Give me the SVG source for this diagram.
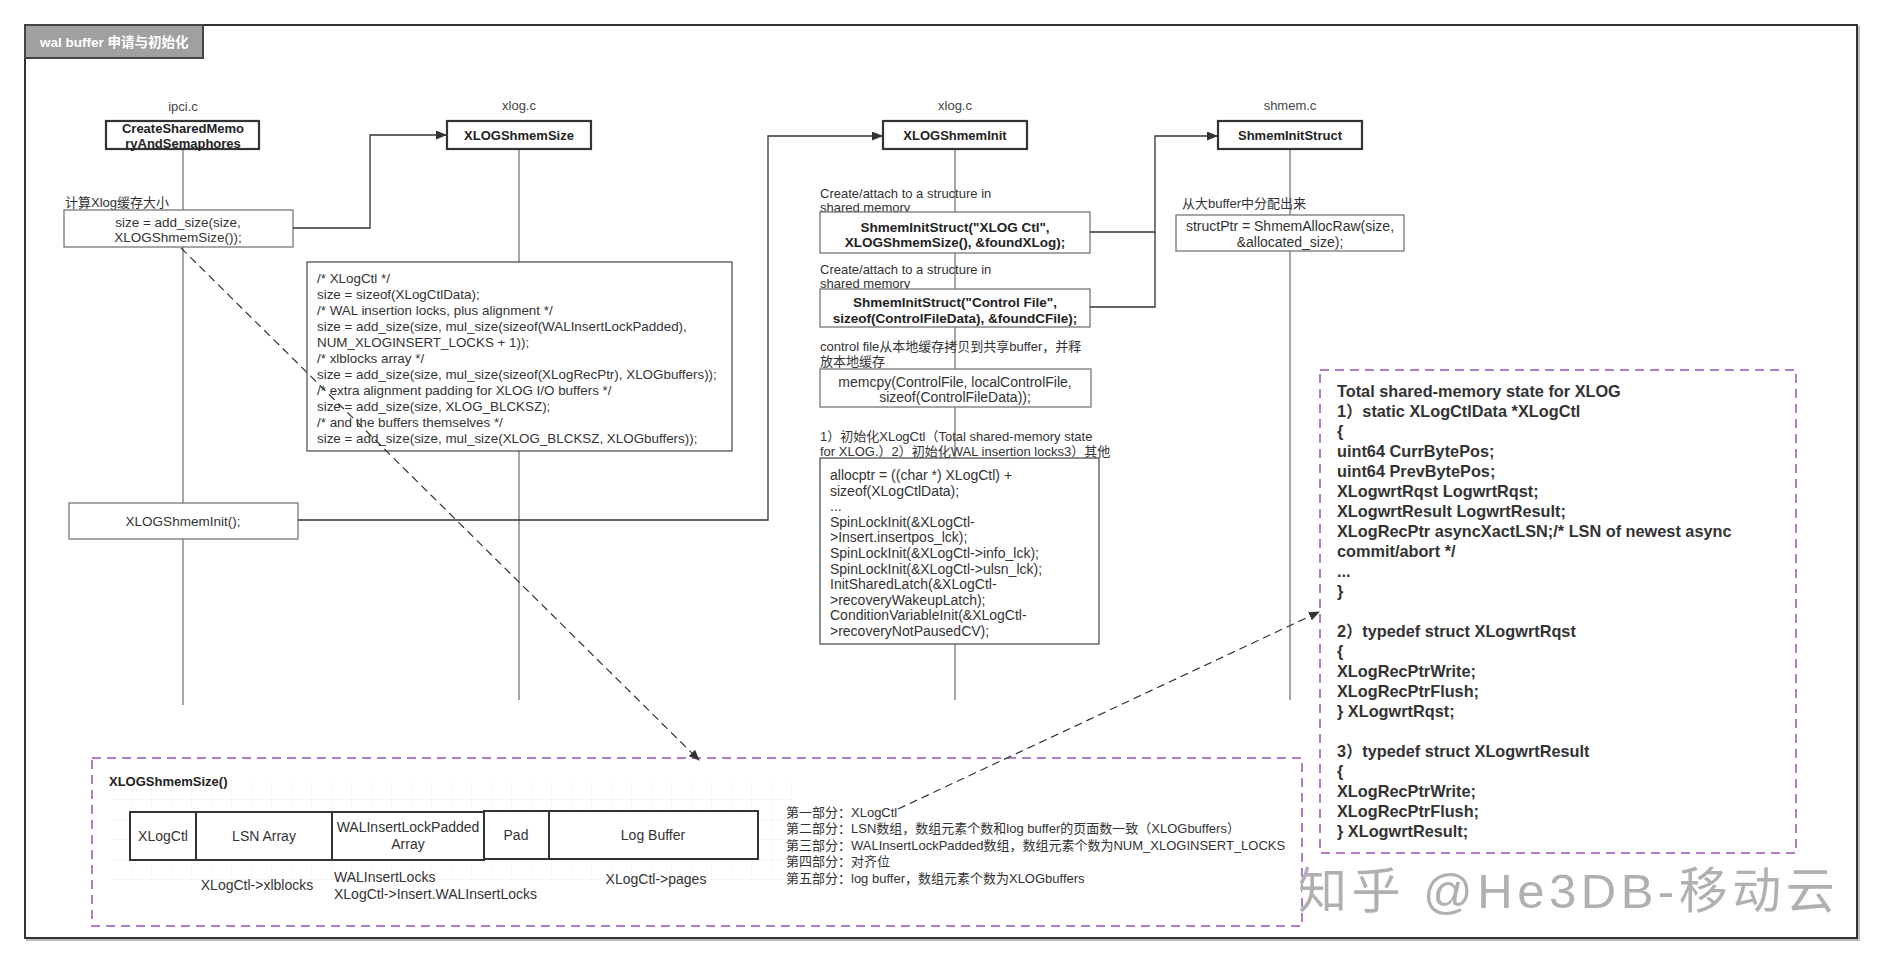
<svg xmlns="http://www.w3.org/2000/svg" width="1883" height="964" viewBox="0 0 1883 964">
<defs>
<marker id="arr" markerUnits="userSpaceOnUse" markerWidth="11" markerHeight="9" refX="10" refY="4.5" orient="auto">
<path d="M0,0 L11,4.5 L0,9 z" fill="#333"/>
</marker>
<pattern id="grid" width="20" height="20" patternUnits="userSpaceOnUse" x="112" y="780">
<path d="M20,0 V20 M0,20 H20" fill="none" stroke="#efefef" stroke-width="1"/>
</pattern>
<style>
text{font-family:"Liberation Sans","Noto Sans CJK SC",sans-serif;fill:#333;}
.lbl{font-size:13px;}
.code{font-size:14px;}
.code2{font-size:13.4px;}
.hdr{font-size:13px;font-weight:bold;fill:#222;}
.file{font-size:13px;fill:#444;}
.big{font-size:16.3px;font-weight:bold;fill:#333;}
.head{fill:#fff;stroke:#333;stroke-width:2.2;}
.box{fill:#fff;stroke:#777;stroke-width:1.3;}
.dbox{fill:#fff;stroke:#444;stroke-width:1.2;}
.life{stroke:#8a8a8a;stroke-width:1.5;fill:none;}
.con{stroke:#333;stroke-width:1.3;fill:none;}
.dash{stroke:#333;stroke-width:1.2;fill:none;stroke-dasharray:8 5;}
.purple{fill:none;stroke:#b57cc6;stroke-width:2;stroke-dasharray:9 6;}
.seg{fill:#fff;stroke:#333;stroke-width:2;}
.wm{font-size:49px;letter-spacing:4.5px;}
</style>
</defs>
<rect x="0" y="0" width="1883" height="964" fill="#fff"/>
<g id="frame">
<rect x="27" y="27" width="1832" height="913" fill="none" stroke="#bbb" stroke-width="2"/>
<rect x="25" y="25" width="1832" height="913" fill="#fff" stroke="#333" stroke-width="2"/>
<rect x="25" y="25" width="178" height="33" fill="#a0a0a0" stroke="#444" stroke-width="2"/>
<text x="40" y="42" dominant-baseline="central" style="font-size:13.5px;font-weight:bold;fill:#fff">wal buffer 申请与初始化</text>
</g>
<g id="lifelines">
<line class="life" x1="183" y1="149" x2="183" y2="705"/>
<line class="life" x1="519" y1="149" x2="519" y2="700"/>
<line class="life" x1="955" y1="149" x2="955" y2="700"/>
<line class="life" x1="1290" y1="149" x2="1290" y2="700"/>
</g>
<g id="ipci">
<text class="file" x="183" y="106" text-anchor="middle" dominant-baseline="central">ipci.c</text>
<rect class="head" x="106" y="121" width="153" height="28"/>
<text class="hdr" x="183" y="128" text-anchor="middle" dominant-baseline="central">CreateSharedMemo</text>
<text class="hdr" x="183" y="143" text-anchor="middle" dominant-baseline="central">ryAndSemaphores</text>
</g>
<g id="size-call">
<text class="lbl" x="65" y="202" dominant-baseline="central">计算Xlog缓存大小</text>
<rect class="box" x="64" y="210" width="229" height="37"/>
<text x="178" y="222" text-anchor="middle" dominant-baseline="central" style="font-size:13.5px">size = add_size(size,</text>
<text x="178" y="237" text-anchor="middle" dominant-baseline="central" style="font-size:13.5px">XLOGShmemSize());</text>
</g>
<g id="init-call">
<rect class="box" x="69" y="503" width="229" height="36"/>
<text x="183" y="521" text-anchor="middle" dominant-baseline="central" style="font-size:13.5px">XLOGShmemInit();</text>
</g>
<g id="xlogshmemsize">
<text class="file" x="519" y="105" text-anchor="middle" dominant-baseline="central">xlog.c</text>
<rect class="head" x="447" y="121" width="144" height="28"/>
<text class="hdr" x="519" y="135" text-anchor="middle" dominant-baseline="central">XLOGShmemSize</text>
</g>
<g id="size-code">
<rect class="dbox" x="307" y="262" width="425" height="189"/>
<g class="code2">
<text x="317" y="278" dominant-baseline="central">/* XLogCtl */</text>
<text x="317" y="294" dominant-baseline="central">size = sizeof(XLogCtlData);</text>
<text x="317" y="310" dominant-baseline="central">/* WAL insertion locks, plus alignment */</text>
<text x="317" y="326" dominant-baseline="central">size = add_size(size, mul_size(sizeof(WALInsertLockPadded),</text>
<text x="317" y="342" dominant-baseline="central">NUM_XLOGINSERT_LOCKS + 1));</text>
<text x="317" y="358" dominant-baseline="central">/* xlblocks array */</text>
<text x="317" y="374" dominant-baseline="central">size = add_size(size, mul_size(sizeof(XLogRecPtr), XLOGbuffers));</text>
<text x="317" y="390" dominant-baseline="central">/* extra alignment padding for XLOG I/O buffers */</text>
<text x="317" y="406" dominant-baseline="central">size = add_size(size, XLOG_BLCKSZ);</text>
<text x="317" y="422" dominant-baseline="central">/* and the buffers themselves */</text>
<text x="317" y="438" dominant-baseline="central">size = add_size(size, mul_size(XLOG_BLCKSZ, XLOGbuffers));</text>
</g>
</g>
<g id="xlogshmeminit">
<text class="file" x="955" y="105" text-anchor="middle" dominant-baseline="central">xlog.c</text>
<rect class="head" x="883" y="121" width="144" height="28"/>
<text class="hdr" x="955" y="135" text-anchor="middle" dominant-baseline="central">XLOGShmemInit</text>
</g>
<g id="init-struct-xlog">
<text class="lbl" x="820" y="193" dominant-baseline="central">Create/attach to a structure in</text>
<text class="lbl" x="820" y="207" dominant-baseline="central">shared memory</text>
<rect class="box" x="820" y="212" width="270" height="41"/>
<text class="hdr" x="955" y="227" text-anchor="middle" dominant-baseline="central" style="font-size:13.5px">ShmemInitStruct("XLOG Ctl",</text>
<text class="hdr" x="955" y="242" text-anchor="middle" dominant-baseline="central" style="font-size:13.5px">XLOGShmemSize(), &amp;foundXLog);</text>
</g>
<g id="init-struct-cfile">
<text class="lbl" x="820" y="269" dominant-baseline="central">Create/attach to a structure in</text>
<text class="lbl" x="820" y="283" dominant-baseline="central">shared memory</text>
<rect class="box" x="820" y="289" width="270" height="38"/>
<text class="hdr" x="955" y="302" text-anchor="middle" dominant-baseline="central" style="font-size:13.5px">ShmemInitStruct("Control File",</text>
<text class="hdr" x="955" y="318" text-anchor="middle" dominant-baseline="central" style="font-size:13.5px">sizeof(ControlFileData), &amp;foundCFile);</text>
</g>
<g id="memcpy">
<text class="lbl" x="820" y="346" dominant-baseline="central">control file从本地缓存拷贝到共享buffer，并释</text>
<text class="lbl" x="820" y="361" dominant-baseline="central">放本地缓存</text>
<rect class="box" x="820" y="369" width="271" height="38"/>
<text class="code" x="955" y="382" text-anchor="middle" dominant-baseline="central">memcpy(ControlFile, localControlFile,</text>
<text class="code" x="955" y="397" text-anchor="middle" dominant-baseline="central">sizeof(ControlFileData));</text>
</g>
<g id="init-code">
<text class="lbl" x="820" y="436" dominant-baseline="central">1）初始化XLogCtl（Total shared-memory state</text>
<text class="lbl" x="820" y="451" dominant-baseline="central">for XLOG.）2）初始化WAL insertion locks3）其他</text>
<rect class="dbox" x="820" y="458" width="279" height="186"/>
<g class="code">
<text x="830" y="475" dominant-baseline="central">allocptr = ((char *) XLogCtl) +</text>
<text x="830" y="490.6" dominant-baseline="central">sizeof(XLogCtlData);</text>
<text x="830" y="506.2" dominant-baseline="central">...</text>
<text x="830" y="521.8" dominant-baseline="central">SpinLockInit(&amp;XLogCtl-</text>
<text x="830" y="537.4" dominant-baseline="central">&gt;Insert.insertpos_lck);</text>
<text x="830" y="553" dominant-baseline="central">SpinLockInit(&amp;XLogCtl-&gt;info_lck);</text>
<text x="830" y="568.6" dominant-baseline="central">SpinLockInit(&amp;XLogCtl-&gt;ulsn_lck);</text>
<text x="830" y="584.2" dominant-baseline="central">InitSharedLatch(&amp;XLogCtl-</text>
<text x="830" y="599.8" dominant-baseline="central">&gt;recoveryWakeupLatch);</text>
<text x="830" y="615.4" dominant-baseline="central">ConditionVariableInit(&amp;XLogCtl-</text>
<text x="830" y="631" dominant-baseline="central">&gt;recoveryNotPausedCV);</text>
</g>
</g>
<g id="shmeminitstruct">
<text class="file" x="1290" y="105" text-anchor="middle" dominant-baseline="central">shmem.c</text>
<rect class="head" x="1218" y="121" width="144" height="28"/>
<text class="hdr" x="1290" y="135" text-anchor="middle" dominant-baseline="central">ShmemInitStruct</text>
</g>
<g id="alloc">
<text class="lbl" x="1182" y="203" dominant-baseline="central">从大buffer中分配出来</text>
<rect class="box" x="1176" y="215" width="228" height="36"/>
<text class="code" x="1290" y="226" text-anchor="middle" dominant-baseline="central">structPtr = ShmemAllocRaw(size,</text>
<text class="code" x="1290" y="242" text-anchor="middle" dominant-baseline="central">&amp;allocated_size);</text>
</g>
<g id="xlogctl-state">
<rect class="purple" x="1320" y="370" width="476" height="483"/>
<g class="big">
<text x="1337" y="391" dominant-baseline="central">Total shared-memory state for XLOG</text>
<text x="1337" y="411" dominant-baseline="central">1）static XLogCtlData *XLogCtl</text>
<text x="1337" y="431" dominant-baseline="central">{</text>
<text x="1337" y="451" dominant-baseline="central">uint64 CurrBytePos;</text>
<text x="1337" y="471" dominant-baseline="central">uint64 PrevBytePos;</text>
<text x="1337" y="491" dominant-baseline="central">XLogwrtRqst LogwrtRqst;</text>
<text x="1337" y="511" dominant-baseline="central">XLogwrtResult LogwrtResult;</text>
<text x="1337" y="531" dominant-baseline="central">XLogRecPtr asyncXactLSN;/* LSN of newest async</text>
<text x="1337" y="551" dominant-baseline="central">commit/abort */</text>
<text x="1337" y="571" dominant-baseline="central">...</text>
<text x="1337" y="591" dominant-baseline="central">}</text>
<text x="1337" y="631" dominant-baseline="central">2）typedef struct XLogwrtRqst</text>
<text x="1337" y="651" dominant-baseline="central">{</text>
<text x="1337" y="671" dominant-baseline="central">XLogRecPtrWrite;</text>
<text x="1337" y="691" dominant-baseline="central">XLogRecPtrFlush;</text>
<text x="1337" y="711" dominant-baseline="central">} XLogwrtRqst;</text>
<text x="1337" y="751" dominant-baseline="central">3）typedef struct XLogwrtResult</text>
<text x="1337" y="771" dominant-baseline="central">{</text>
<text x="1337" y="791" dominant-baseline="central">XLogRecPtrWrite;</text>
<text x="1337" y="811" dominant-baseline="central">XLogRecPtrFlush;</text>
<text x="1337" y="831" dominant-baseline="central">} XLogwrtResult;</text>
</g>
</g>
<g id="layout">
<rect class="purple" x="92" y="758" width="1210" height="168"/>
<rect x="112" y="780" width="680" height="100" fill="url(#grid)"/>
<text class="hdr" x="109" y="781" dominant-baseline="central">XLOGShmemSize()</text>
<rect class="seg" x="130" y="812" width="66" height="48"/>
<rect class="seg" x="196" y="812" width="136" height="48"/>
<rect class="seg" x="332" y="812" width="152" height="48"/>
<rect class="seg" x="484" y="811" width="65" height="48"/>
<rect class="seg" x="549" y="811" width="209" height="48"/>
<text class="code" x="163" y="836" text-anchor="middle" dominant-baseline="central">XLogCtl</text>
<text class="code" x="264" y="836" text-anchor="middle" dominant-baseline="central">LSN Array</text>
<text class="code" x="408" y="827" text-anchor="middle" dominant-baseline="central">WALInsertLockPadded</text>
<text class="code" x="408" y="844" text-anchor="middle" dominant-baseline="central">Array</text>
<text class="code" x="516" y="835" text-anchor="middle" dominant-baseline="central">Pad</text>
<text class="code" x="653" y="835" text-anchor="middle" dominant-baseline="central">Log Buffer</text>
<text class="code" x="257" y="885" text-anchor="middle" dominant-baseline="central">XLogCtl-&gt;xlblocks</text>
<text class="code" x="334" y="877" dominant-baseline="central">WALInsertLocks</text>
<text class="code" x="334" y="894" dominant-baseline="central">XLogCtl-&gt;Insert.WALInsertLocks</text>
<text class="code" x="656" y="879" text-anchor="middle" dominant-baseline="central">XLogCtl-&gt;pages</text>
<g class="lbl">
<text x="786" y="812" dominant-baseline="central">第一部分：XLogCtl</text>
<text x="786" y="828.5" dominant-baseline="central">第二部分：LSN数组，数组元素个数和log buffer的页面数一致（XLOGbuffers）</text>
<text x="786" y="845" dominant-baseline="central">第三部分：WALInsertLockPadded数组，数组元素个数为NUM_XLOGINSERT_LOCKS</text>
<text x="786" y="861.5" dominant-baseline="central">第四部分：对齐位</text>
<text x="786" y="878" dominant-baseline="central">第五部分：log buffer，数组元素个数为XLOGbuffers</text>
</g>
</g>
<g id="connectors">
<path class="con" d="M293,228 H370 V135 H446" marker-end="url(#arr)"/>
<path class="con" d="M298,520 H768 V136 H882" marker-end="url(#arr)"/>
<path class="con" d="M1090,232 H1155 V136 H1217" marker-end="url(#arr)"/>
<path class="con" d="M1090,307 H1155 V232"/>
<path class="dash" d="M181,248 L699,760" marker-end="url(#arr)"/>
<path class="dash" d="M898,809 L1319,612" marker-end="url(#arr)"/>
</g>
<g id="watermark">
<text class="wm" x="1300" y="910" style="fill:#ffffff">知乎 @He3DB-移动云</text>
<text class="wm" x="1298" y="908" style="fill:#b0b0b0">知乎 @He3DB-移动云</text>
</g>
</svg>
